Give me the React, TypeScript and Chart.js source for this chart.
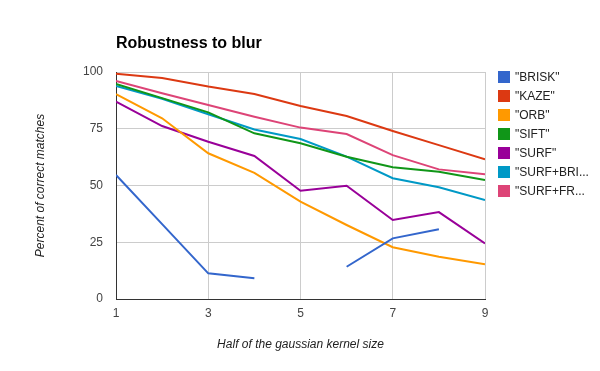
import React, { useEffect, useRef } from "react";
import { Chart, registerables } from "chart.js";

Chart.register(...registerables);

const xValues = [1, 2, 3, 4, 5, 6, 7, 8, 9];
const seriesNames = ['"BRISK"', '"KAZE"', '"ORB"', '"SIFT"', '"SURF"', '"SURF+BRISK"', '"SURF+FREAK"'];
const legendLabels = ['"BRISK"', '"KAZE"', '"ORB"', '"SIFT"', '"SURF"', '"SURF+BRI...', '"SURF+FR...'];
const colors = ["#3366cc", "#dc3912", "#ff9900", "#109618", "#990099", "#0099c6", "#dd4477"];

const brisk = [54.6, 33, 11.3, 9.1, null, 14.2, 26.7, 30.7, null];
const kaze = [99.2, 97.4, 93.6, 90.3, 85, 80.6, 74, 67.8, 61.5];
const orb = [90.2, 79.6, 64.2, 55.6, 42.9, 32.6, 22.8, 18.6, 15.3];
const sift = [94.7, 88.5, 82.2, 73, 68.6, 62.7, 58, 56.1, 52.4];
const surf = [86.9, 76.2, 69.3, 63, 47.7, 49.9, 34.8, 38.3, 24.5];
const surfBrisk = [93.8, 88.2, 81.4, 74.7, 70.5, 62.7, 53.2, 49.2, 43.6];
const surfFreak = [96, 90.6, 85.5, 80.3, 75.5, 72.7, 63.4, 57.1, 54.9];

const allSeries = [brisk, kaze, orb, sift, surf, surfBrisk, surfFreak];
const yTicks = [0, 25, 50, 75, 100];
const xTicks = [1, 3, 5, 7, 9];

const titleText = "Robustness to blur";
const xTitle = "Half of the gaussian kernel size";
const yTitle = "Percent of correct matches";

const FONT = "'Liberation Sans', Arial, sans-serif";

const overlayPlugin = {
  id: "overlay",
  afterDraw(chart: any) {
    const ctx = chart.ctx;
    const area = chart.chartArea;
    ctx.save();
    // title
    ctx.fillStyle = "#000";
    ctx.font = `bold 16px ${FONT}`;
    ctx.textAlign = "left";
    ctx.textBaseline = "middle";
    ctx.fillText(titleText, area.left, 44);
    // x title
    ctx.fillStyle = "#222";
    ctx.font = `italic 12px ${FONT}`;
    ctx.textAlign = "center";
    ctx.fillText(xTitle, (area.left + area.right) / 2, 345);
    // y title
    ctx.save();
    ctx.translate(41, (area.top + area.bottom) / 2);
    ctx.rotate(-Math.PI / 2);
    ctx.fillText(yTitle, 0, 0);
    ctx.restore();
    // legend
    ctx.font = `12px ${FONT}`;
    ctx.textAlign = "left";
    legendLabels.forEach((lab, i) => {
      const top = 71 + i * 19;
      ctx.fillStyle = colors[i];
      ctx.fillRect(498, top, 12, 12);
      ctx.fillStyle = "#222";
      ctx.fillText(lab, 515, top + 6.5);
    });
    ctx.restore();
  },
};

export default function App() {
  const ref = useRef<HTMLCanvasElement | null>(null);
  useEffect(() => {
    if (!ref.current) return;
    const datasets = allSeries.map((s, i) => ({
      label: seriesNames[i],
      data: s.map((v, j) => ({ x: xValues[j], y: v })),
      borderColor: colors[i],
      backgroundColor: colors[i],
      borderWidth: 2,
      pointRadius: 0,
      pointHoverRadius: 0,
      tension: 0,
      spanGaps: false,
      fill: false,
    }));
    const chart = new Chart(ref.current, {
      type: "line",
      data: { datasets },
      plugins: [overlayPlugin],
      options: {
        animation: false,
        responsive: false,
        events: [],
        layout: { padding: { left: 0, top: 72, right: 115, bottom: 0 } },
        plugins: { legend: { display: false }, title: { display: false }, tooltip: { enabled: false } },
        scales: {
          x: {
            type: "linear",
            min: 1,
            max: 9,
            afterFit: (s: any) => { s.height = 72; },
            afterBuildTicks: (s: any) => { s.ticks = xTicks.map((v) => ({ value: v })); },
            grid: { color: "#cccccc", drawTicks: false },
            border: { color: "#333333", width: 1 },
            ticks: { color: "#444", font: { family: FONT, size: 12 }, padding: 7, maxRotation: 0 },
          },
          y: {
            type: "linear",
            min: 0,
            max: 100,
            afterFit: (s: any) => { s.width = 116; },
            afterBuildTicks: (s: any) => { s.ticks = yTicks.map((v) => ({ value: v })); },
            grid: { color: "#cccccc", drawTicks: false },
            border: { color: "#333333", width: 1 },
            ticks: { color: "#444", font: { family: FONT, size: 12 }, padding: 13 },
          },
        },
      },
    } as any);
    return () => chart.destroy();
  }, []);
  return (
    <div style={{ position: "absolute", left: 0, top: 0, width: 600, height: 371, background: "#fff" }}>
      <canvas ref={ref} width={600} height={371} style={{ width: 600, height: 371, display: "block" }} />
    </div>
  );
}
